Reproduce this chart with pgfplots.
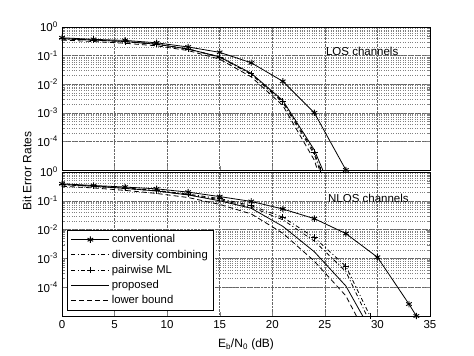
\documentclass[border=0pt]{standalone}
\usepackage{pgfplots}
\pgfplotsset{compat=1.18}
\usepackage{fontspec}
\setmainfont{Liberation Sans}
\pgfplotstableread{
x conv
0 0.42
3 0.37
6 0.34
9 0.28
12 0.20
15 0.13
18 0.056
21 0.0126
24 0.001
27 1e-5
}\losconv
\pgfplotstableread{
x div
0 0.38
3 0.35
6 0.31
9 0.25
12 0.17
15 0.088
18 0.022
21 0.0023
24 3.5e-5
24.5 1e-5
}\losdiv
\pgfplotstableread{
x pml
0 0.39
3 0.35
6 0.31
9 0.25
12 0.17
15 0.09
18 0.023
21 0.0025
24 4.2e-5
24.6 1e-5
}\lospml
\pgfplotstableread{
x prop
0 0.39
3 0.35
6 0.31
9 0.25
12 0.17
15 0.09
18 0.024
21 0.0027
24 5e-5
24.8 1e-5
}\losprop
\pgfplotstableread{
x lb
0 0.35
3 0.31
6 0.27
9 0.22
12 0.15
15 0.075
18 0.018
21 0.0018
24 2.2e-5
24.3 1e-5
}\loslb
\pgfplotstableread{
x conv
0 0.39
3 0.34
6 0.30
9 0.26
12 0.20
15 0.14
18 0.095
21 0.052
24 0.024
27 0.0073
30 0.0011
33 2.6e-5
33.7 1e-5
}\nlosconv
\pgfplotstableread{
x div
0 0.36
3 0.32
6 0.27
9 0.22
12 0.16
15 0.11
18 0.06
21 0.022
24 0.004
27 3.5e-4
29.0 1e-5
}\nlosdiv
\pgfplotstableread{
x pml
0 0.37
3 0.33
6 0.28
9 0.23
12 0.17
15 0.12
18 0.068
21 0.027
24 0.0053
27 5.3e-4
29.3 1e-5
}\nlospml
\pgfplotstableread{
x prop
0 0.37
3 0.32
6 0.27
9 0.22
12 0.16
15 0.10
18 0.055
21 0.013
24 0.0017
27 1.1e-4
28.6 1e-5
}\nlosprop
\pgfplotstableread{
x lb
0 0.32
3 0.28
6 0.23
9 0.18
12 0.13
15 0.075
18 0.035
21 0.0075
24 8e-4
27 5e-5
28.0 1e-5
}\nloslb
\begin{document}
\fontsize{12}{14}\selectfont
\begin{tikzpicture}
\path[use as bounding box] (-62pt,-40pt) rectangle (412pt,316pt);
\pgfplotsset{
  every axis/.append style={
    scale only axis, width=368pt,
    xmin=0, xmax=35, ymode=log, ymin=1e-5, ymax=1,
    xtick={0,5,...,35}, minor x tick num=0,
    ytick={1e-4,1e-3,1e-2,1e-1,1},
    yticklabels={10\textsuperscript{-4},10\textsuperscript{-3},10\textsuperscript{-2},10\textsuperscript{-1},10\textsuperscript{0}},
    tick align=inside,
    grid=both,
    major grid style={black!60, densely dotted, line width=0.45pt},
    minor grid style={black!50, dotted, line width=0.45pt},
    /pgf/number format/assume math mode=true,
    tick label style={font=\fontsize{11.5}{13}\selectfont},
    axis line style={line width=0.7pt},
    every axis plot/.append style={black, line width=0.8pt},
    clip=true,
  },
  conv/.style={solid, mark=asterisk, mark size=3.2pt, mark options={solid, line width=0.9pt}},
  div/.style={dash pattern=on 4pt off 2.5pt on 1pt off 2.5pt},
  pml/.style={dash pattern=on 4pt off 2.5pt on 1pt off 2.5pt, mark=+, mark size=3.2pt, mark options={solid}},
  prop/.style={solid},
  lb/.style={dash pattern=on 5pt off 3pt},
}
\begin{axis}[at={(0pt,146pt)}, anchor=south west, height=143pt, xticklabels={}]
\addplot[conv] table[x=x,y=conv] {\losconv};
\addplot[div] table[x=x,y=div] {\losdiv};
\addplot[pml] table[x=x,y=pml] {\lospml};
\addplot[prop] table[x=x,y=prop] {\losprop};
\addplot[lb] table[x=x,y=lb] {\loslb};
\node[anchor=west, inner sep=1pt, font=\fontsize{11.5}{13}\selectfont] at (axis cs:25.0,0.14) {LOS channels};
\end{axis}
\begin{axis}[at={(0pt,0pt)}, anchor=south west, height=144pt,
  xlabel={E\textsubscript{b}/N\textsubscript{0} (dB)},
  xlabel style={yshift=-2pt, font=\fontsize{12}{13}\selectfont},
  legend style={at={(0.014,0.04)}, anchor=south west, draw=black, line width=0.6pt, font=\fontsize{11.3}{12}\selectfont, row sep=1.2pt, inner xsep=3.5pt, inner ysep=2.5pt, cells={anchor=west}},
  legend image code/.code={\draw[mark repeat=2,mark phase=2,#1] plot coordinates {(0pt,0pt) (19pt,0pt) (38pt,0pt)};},
]
\addplot[conv] table[x=x,y=conv] {\nlosconv};
\addlegendentry{conventional}
\addplot[div] table[x=x,y=div] {\nlosdiv};
\addlegendentry{diversity combining}
\addplot[pml] table[x=x,y=pml] {\nlospml};
\addlegendentry{pairwise ML}
\addplot[prop] table[x=x,y=prop] {\nlosprop};
\addlegendentry{proposed}
\addplot[lb] table[x=x,y=lb] {\nloslb};
\addlegendentry{lower bound}
\node[anchor=west, inner sep=1pt, font=\fontsize{11.5}{13}\selectfont] at (axis cs:25.2,0.12) {NLOS channels};
\end{axis}
\node[rotate=90] at (-35pt,145pt) {Bit Error Rates};
\end{tikzpicture}
\end{document}
